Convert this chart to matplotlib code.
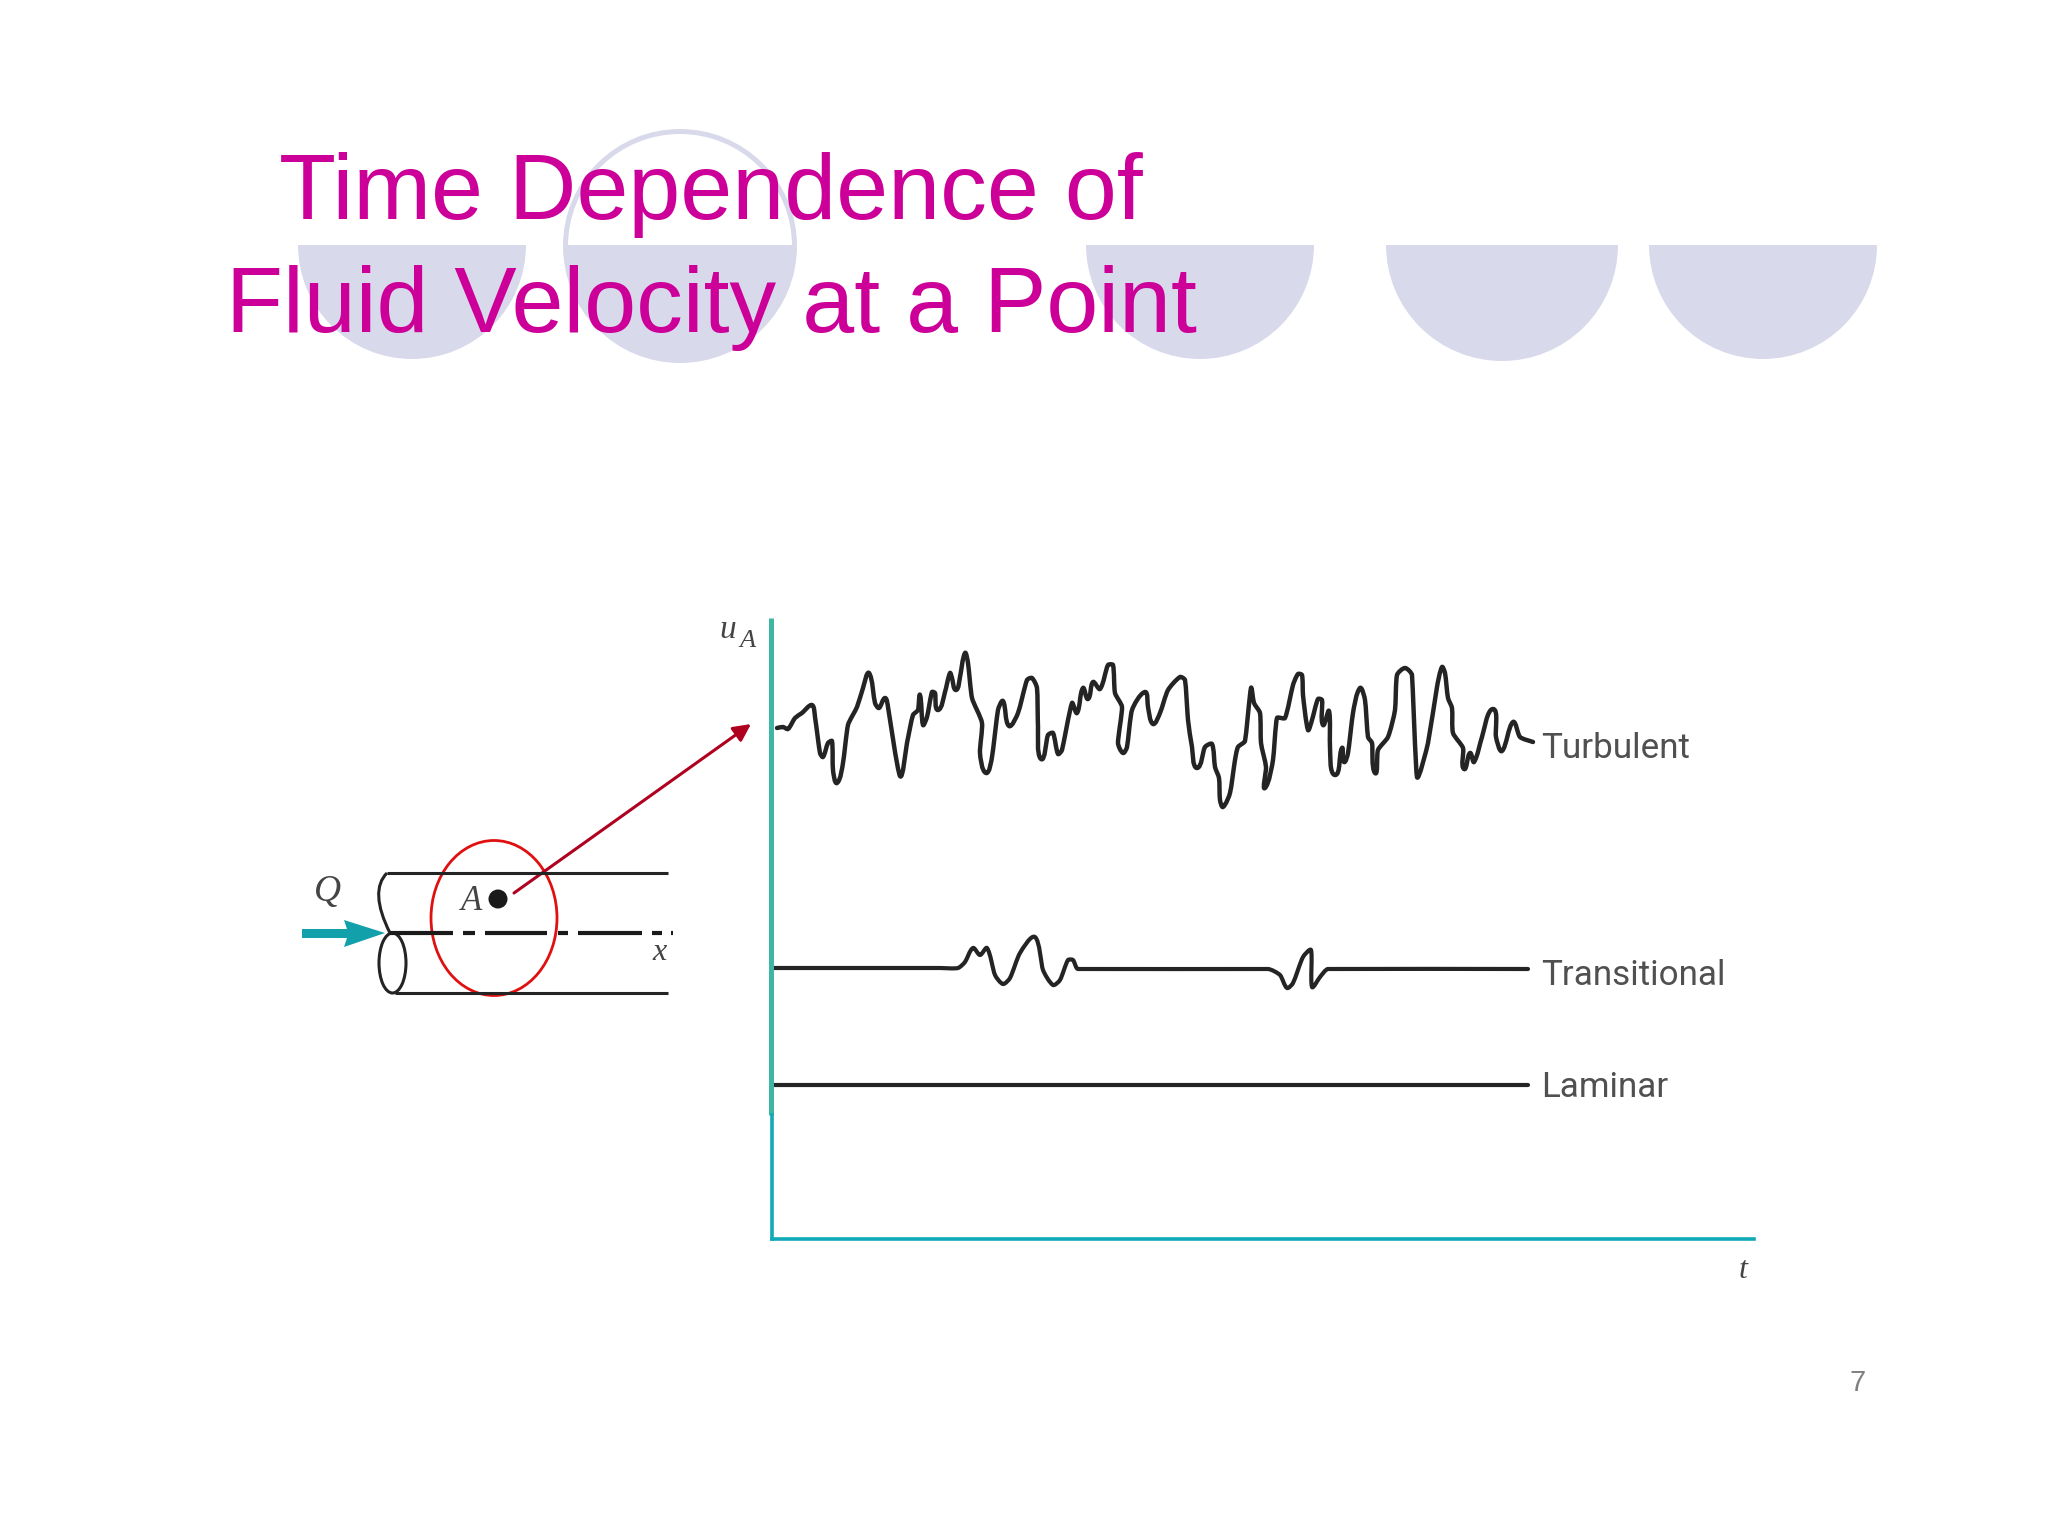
#!/usr/bin/env python3
"""Slide: time dependence of fluid velocity at a point."""
import matplotlib
matplotlib.use("Agg")
import matplotlib.pyplot as plt
import numpy as np
from matplotlib.patches import Circle, Ellipse, FancyArrowPatch, PathPatch, Polygon, Wedge
from matplotlib.path import Path

W, H = 2048, 1536
LILAC = "#d9d9ec"
MAGENTA = "#cc0099"
TEAL = "#10a9b8"
GREEN_TEAL = "#3db6a2"
INK = "#242424"

# velocity traces (t, u in picture-sized units)
turb_t = [5, 11, 16, 23, 30, 40, 43, 48, 51, 56, 60, 61, 65, 71, 76, 85, 91, 97, 103, 107,
          113, 116, 128, 135, 141, 146, 148, 151, 155, 160, 163, 166, 173, 178, 180, 184,
          188, 193, 196, 200, 210, 208, 214, 220, 226, 231, 237, 246, 255, 260, 265, 266,
          269, 276, 281, 286, 290, 300, 305, 311, 316, 321, 328, 336, 341, 343, 350, 346,
          351, 355, 360, 373, 376, 381, 388, 396, 408, 413, 416, 420, 425, 433, 440, 443,
          447, 448, 451, 458, 463, 466, 473, 479, 482, 488, 489, 494, 493, 501, 505, 513,
          521, 526, 530, 531, 536, 540, 546, 550, 551, 557, 558, 563, 570, 572, 576, 581,
          588, 593, 596, 600, 603, 606, 616, 623, 625, 633, 640, 645, 656, 665, 670, 673,
          676, 680, 681, 691, 692, 698, 702, 710, 721, 724, 730, 741, 748, 761]
turb_u = [511, 512, 510, 521, 526, 534, 522, 486, 482, 496, 498, 469, 456, 476, 514, 532, 551,
          566, 536, 531, 541, 532, 463, 496, 524, 529, 544, 514, 522, 547, 546, 529, 547, 566,
          561, 549, 562, 586, 576, 541, 516, 486, 466, 482, 529, 538, 513, 526, 559, 561, 551,
          512, 480, 504, 506, 485, 489, 536, 526, 551, 540, 557, 550, 574, 574, 546, 532, 496,
          486, 492, 529, 547, 532, 515, 526, 549, 562, 559, 519, 492, 471, 492, 495, 472, 461,
          439, 432, 446, 479, 492, 498, 551, 536, 526, 496, 472, 451, 479, 521, 521, 554, 565,
          564, 544, 509, 519, 540, 539, 514, 528, 492, 464, 491, 477, 486, 526, 551, 539, 502,
          496, 466, 489, 502, 529, 564, 571, 564, 462, 496, 552, 572, 566, 541, 531, 506, 491,
          470, 486, 477, 502, 530, 502, 488, 517, 502, 497]
trans_t = [0, 168, 186, 193, 201, 208, 215, 223, 231, 238, 248, 263, 271, 281, 288, 296, 301,
           306, 496, 508, 515, 521, 531, 539, 540, 548, 556, 756]
trans_u = [271, 271, 271, 277, 291, 284, 291, 264, 255, 261, 286, 302, 269, 254, 259, 279, 279,
           270, 270, 264, 251, 256, 282, 289, 252, 262, 270, 270]
lam_t = [0, 756]
lam_u = [154, 154]

curve_labels = ["Turbulent", "Transitional", "Laminar"]
label_u = [481, 254, 142]


def smooth_path(t, u, k=0.22, reach=6):
    """Bezier path through the read points, so hand-drawn curves stay round."""
    p = np.column_stack([t, u]).astype(float)
    d = np.gradient(p, axis=0)
    d /= np.maximum(np.linalg.norm(d, axis=1, keepdims=True), 1e-9)
    verts, codes = [p[0]], [Path.MOVETO]
    for i in range(len(p) - 1):
        # reach keeps long flat runs from bowing
        arm = min(np.linalg.norm(p[i + 1] - p[i]) * k, reach)
        verts += [p[i] + d[i] * arm, p[i + 1] - d[i + 1] * arm, p[i + 1]]
        codes += [Path.CURVE4] * 3
    return Path(verts, codes)


fig = plt.figure(figsize=(W / 100, H / 100), dpi=100, facecolor="white")

# slide layer, one unit = one pixel
bg = fig.add_axes([0, 0, 1, 1])
bg.set_xlim(0, W); bg.set_ylim(H, 0); bg.axis("off")

for cx, r in [(412, 114), (680, 115), (1200, 114), (1502, 116), (1763, 114)]:
    # y axis is flipped, so 0..180 is the lower half on screen
    bg.add_patch(Wedge((cx, 245), r, 0, 180, fc=LILAC, ec="none"))
bg.add_patch(Circle((680, 246), 114.5, fc="none", ec=LILAC, lw=3.6))

bg.text(711, 219, "Time Dependence of", color=MAGENTA, family="Liberation Sans",
        fontsize=67.2, ha="center", va="baseline")
bg.text(711, 332, "Fluid Velocity at a Point", color=MAGENTA, family="Liberation Sans",
        fontsize=67.2, ha="center", va="baseline")
bg.text(1858, 1383, "7", color="#808080", family="Liberation Sans", fontsize=21,
        ha="center", va="center")

# pipe sketch
bg.plot([387, 668], [873, 873], color=INK, lw=2.2, solid_capstyle="butt")
bg.plot([395, 668], [993, 993], color=INK, lw=2.2, solid_capstyle="butt")
for x0, x1 in [(390, 453), (463, 475), (485, 547), (558, 568), (578, 642), (652, 662), (671, 673)]:
    bg.plot([x0, x1], [933, 933], color="#1a1a1a", lw=3, solid_capstyle="butt")
lobe = Path([(387, 873), (375, 885), (376, 905), (390, 933)],
            [Path.MOVETO, Path.CURVE4, Path.CURVE4, Path.CURVE4])
bg.add_patch(PathPatch(lobe, fc="none", ec=INK, lw=2.2))
bg.add_patch(Ellipse((392.5, 963), 27, 60, fc="none", ec=INK, lw=2.2))
bg.add_patch(Polygon([(302, 929), (347, 929), (344, 920), (385, 933), (344, 947), (347, 938), (302, 938)],
                     fc="#12a0aa", ec="none"))
bg.add_patch(Circle((498, 899), 9.5, fc="#1a1a1a", ec="none"))
bg.add_patch(Ellipse((494, 918), 126, 155, fc="none", ec="#e01010", lw=2))
bg.add_patch(FancyArrowPatch((514, 893), (751, 724), arrowstyle="-|>", mutation_scale=26,
                             color="#b00020", lw=2.2, shrinkA=0, shrinkB=0))
serif = dict(family="Liberation Serif", style="italic", color="#444444", ha="center", va="center")
bg.text(328, 892, "Q", fontsize=27, **serif)
bg.text(472, 902, "A", fontsize=25, **serif)
bg.text(660, 953, "x", fontsize=23, **serif)
bg.text(1743, 1271, "t", fontsize=23, **serif)
bg.text(728, 630, "u", fontsize=24, **serif)
bg.text(747, 641, "A", fontsize=19, **serif)

# chart layer: the two teal axes
ax = fig.add_axes([772 / W, 1 - 1239 / H, 982 / W, 619 / H])
ax.patch.set_alpha(0)
ax.set_xlim(0, 982); ax.set_ylim(0, 619)
ax.set_xticks([]); ax.set_yticks([])
for side in ("top", "right"):
    ax.spines[side].set_visible(False)
for side in ("left", "bottom"):
    ax.spines[side].set_color(TEAL)
    ax.spines[side].set_linewidth(2.6)
# the upper part of the axis is a thicker, greener stroke in the original
ax.spines["left"].set_bounds(0, 124)
ax.plot([-1, -1], [124, 621], color=GREEN_TEAL, lw=3.6, solid_capstyle="butt", clip_on=False)

for t, u, lw in [(turb_t, turb_u, 3.2), (trans_t, trans_u, 3), (lam_t, lam_u, 3)]:
    ax.add_patch(PathPatch(smooth_path(t, u), fc="none", ec=INK, lw=lw, joinstyle="round",
                           capstyle="round", clip_on=False))
for name, u in zip(curve_labels, label_u):
    ax.text(769, u, name, family="Roboto", fontsize=25.2, color="#505050", va="baseline", ha="left")

fig.savefig("out.png", dpi=100)
